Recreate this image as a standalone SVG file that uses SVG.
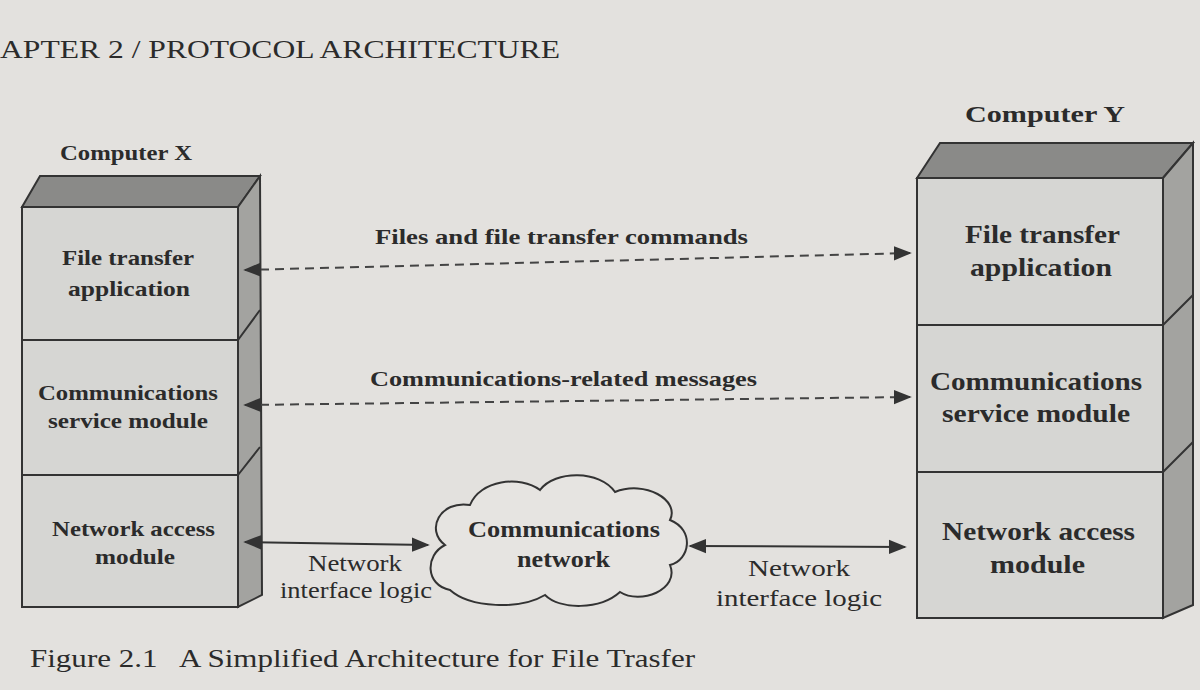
<svg xmlns="http://www.w3.org/2000/svg" width="1200" height="690" viewBox="0 0 1200 690">
<defs>
<style>
.t{font-family:"Liberation Serif",serif;fill:#2b2b2b}
.b{font-weight:bold}
.face{fill:#d6d6d3;stroke:#333;stroke-width:2}
.top{fill:#8a8a88;stroke:#333;stroke-width:2}
.side{fill:#a3a3a0;stroke:#333;stroke-width:2}
.ln{stroke:#333;stroke-width:2;fill:none}
.dash{stroke:#444;stroke-width:2;fill:none;stroke-dasharray:9,6}
</style>
<marker id="a" viewBox="0 0 10 10" refX="9" refY="5" markerWidth="9" markerHeight="9" orient="auto-start-reverse"><path d="M0,1L10,5L0,9z" fill="#333"/></marker>
</defs>
<rect width="1200" height="690" fill="#e3e1de"/>
<text class="t" x="0" y="58" font-size="26" textLength="560" lengthAdjust="spacingAndGlyphs">APTER 2 / PROTOCOL ARCHITECTURE</text>
<g id="computerX">
<text class="t b" x="60" y="160" font-size="21" textLength="132" lengthAdjust="spacingAndGlyphs">Computer X</text>
<path class="top" d="M22,207L40,176L260,176L238,207z"/>
<path class="side" d="M238,207L260,176L262,595L238,607z"/>
<path class="ln" d="M238,340L260,310M238,475L260,447"/>
<rect class="face" x="22" y="207" width="216" height="400"/>
<path class="ln" d="M22,340H238M22,475H238"/>
<g class="t b" font-size="22">
<text x="62" y="265" textLength="132" lengthAdjust="spacingAndGlyphs">File transfer</text><text x="68" y="296" textLength="122" lengthAdjust="spacingAndGlyphs">application</text>
<text x="38" y="400" textLength="180" lengthAdjust="spacingAndGlyphs">Communications</text><text x="48" y="428" textLength="160" lengthAdjust="spacingAndGlyphs">service module</text>
<text x="52" y="536" textLength="163" lengthAdjust="spacingAndGlyphs">Network access</text><text x="95" y="564" textLength="80" lengthAdjust="spacingAndGlyphs">module</text>
</g>
</g>
<g id="computerY">
<text class="t b" x="965" y="122" font-size="24" textLength="160" lengthAdjust="spacingAndGlyphs">Computer Y</text>
<path class="top" d="M917,178L940,143L1193,143L1163,178z"/>
<path class="side" d="M1163,178L1193,143L1193,605L1163,618z"/>
<path class="ln" d="M1163,325L1193,295M1163,472L1193,442"/>
<rect class="face" x="917" y="178" width="246" height="440"/>
<path class="ln" d="M917,325H1163M917,472H1163"/>
<g class="t b" font-size="25">
<text x="965" y="243" textLength="155" lengthAdjust="spacingAndGlyphs">File transfer</text><text x="970" y="276" textLength="142" lengthAdjust="spacingAndGlyphs">application</text>
<text x="930" y="390" textLength="212" lengthAdjust="spacingAndGlyphs">Communications</text><text x="942" y="422" textLength="188" lengthAdjust="spacingAndGlyphs">service module</text>
<text x="942" y="540" textLength="193" lengthAdjust="spacingAndGlyphs">Network access</text><text x="990" y="573" textLength="95" lengthAdjust="spacingAndGlyphs">module</text>
</g>
</g>
<g id="network">
<path d="M450,590C425,585 425,555 445,545C425,530 440,500 470,505C480,480 520,475 540,490C555,470 600,470 615,492C645,480 680,500 670,520C695,530 690,560 670,565C680,590 640,605 620,592C600,610 560,610 545,595C520,610 470,608 450,590z" fill="#e6e4e1" stroke="#333" stroke-width="2"/>
<text class="t b" x="468" y="537" font-size="23" textLength="192" lengthAdjust="spacingAndGlyphs">Communications</text>
<text class="t b" x="517" y="567" font-size="23" textLength="93" lengthAdjust="spacingAndGlyphs">network</text>
</g>
<g id="connectors">
<path class="dash" d="M245,270L910,253" marker-start="url(#a)" marker-end="url(#a)"/>
<path class="dash" d="M245,405L910,397" marker-start="url(#a)" marker-end="url(#a)"/>
<path class="ln" d="M245,542L428,545" marker-start="url(#a)" marker-end="url(#a)"/>
<path class="ln" d="M690,546L905,547" marker-start="url(#a)" marker-end="url(#a)"/>
</g>
<g class="t b" font-size="22">
<text x="375" y="244" textLength="373" lengthAdjust="spacingAndGlyphs">Files and file transfer commands</text>
<text x="370" y="386" textLength="387" lengthAdjust="spacingAndGlyphs">Communications-related messages</text>
</g>
<g class="t" font-size="23">
<text x="308" y="571" textLength="94" lengthAdjust="spacingAndGlyphs">Network</text><text x="280" y="598" textLength="152" lengthAdjust="spacingAndGlyphs">interface logic</text>
<text x="748" y="576" textLength="102" lengthAdjust="spacingAndGlyphs">Network</text><text x="716" y="606" textLength="166" lengthAdjust="spacingAndGlyphs">interface logic</text>
</g>
<text class="t" x="30" y="667" font-size="25" textLength="665" lengthAdjust="spacingAndGlyphs" xml:space="preserve">Figure 2.1   A Simplified Architecture for File Trasfer</text>
</svg>
